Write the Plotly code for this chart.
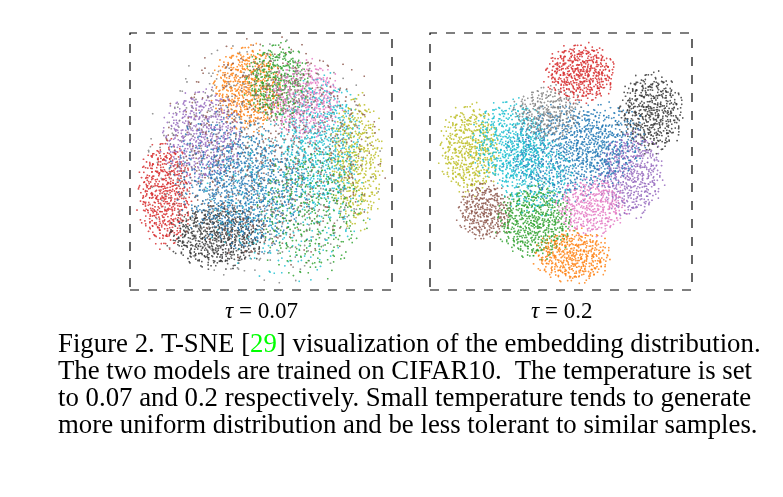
import numpy as np
import plotly.graph_objects as go

W, H = 783, 497
DX, DY = -8, -8  # page body margin offset

palette = {
    "blue": "#1f77b4", "orange": "#ff7f0e", "green": "#2ca02c", "red": "#d62728",
    "purple": "#9467bd", "brown": "#8c564b", "pink": "#e377c2", "black": "#333333",
    "olive": "#bcbd22", "cyan": "#17becf", "gray": "#7f7f7f",
}

# clusters: name, centre x, centre y, radius x, radius y, point count (panel units 0..1)
left_names = ["red", "black", "orange", "green", "purple", "cyan", "olive", "blue", "pink", "brown",
              "gray", "cyan", "blue", "green"]
left_cx = [0.12, 0.33, 0.45, 0.57, 0.27, 0.74, 0.88, 0.47, 0.67, 0.55, 0.50, 0.60, 0.35, 0.70]
left_cy = [0.37, 0.20, 0.80, 0.82, 0.60, 0.58, 0.50, 0.38, 0.75, 0.55, 0.50, 0.35, 0.45, 0.30]
left_rx = [0.10, 0.18, 0.13, 0.12, 0.15, 0.15, 0.10, 0.20, 0.14, 0.40, 0.42, 0.30, 0.20, 0.20]
left_ry = [0.20, 0.12, 0.16, 0.15, 0.18, 0.25, 0.25, 0.22, 0.15, 0.42, 0.44, 0.30, 0.25, 0.25]
left_n = [550, 650, 550, 450, 550, 650, 450, 650, 450, 650, 650, 350, 350, 350]

right_names = ["red", "black", "olive", "brown", "green", "orange", "blue", "purple", "cyan", "pink",
               "gray", "blue", "cyan"]
right_cx = [0.58, 0.86, 0.14, 0.20, 0.40, 0.55, 0.52, 0.78, 0.30, 0.62, 0.45, 0.68, 0.40]
right_cy = [0.86, 0.70, 0.55, 0.30, 0.26, 0.12, 0.54, 0.45, 0.58, 0.32, 0.70, 0.58, 0.45]
right_rx = [0.13, 0.12, 0.11, 0.10, 0.14, 0.14, 0.22, 0.12, 0.14, 0.13, 0.13, 0.15, 0.15]
right_ry = [0.11, 0.15, 0.17, 0.11, 0.14, 0.10, 0.18, 0.16, 0.16, 0.11, 0.10, 0.15, 0.15]
right_n = [500, 500, 500, 350, 600, 450, 800, 500, 500, 400, 300, 300, 300]


def halton(i, b):
    f, r = 1.0, 0.0
    while i > 0:
        f /= b
        r += f * (i % b)
        i //= b
    return r


def blob(cx, cy, rx, ry, n, offset):
    idx = np.arange(1, n + 1) + offset
    u = np.array([halton(i, 2) for i in idx])
    v = np.array([halton(i, 3) for i in idx])
    w = np.array([halton(i, 5) for i in idx])
    r = u ** 0.55 * (0.8 + 0.4 * w)
    a = 2 * np.pi * v
    return cx + rx * r * np.cos(a), cy + ry * r * np.sin(a)


fig = go.Figure()
panels = [
    (left_names, left_cx, left_cy, left_rx, left_ry, left_n, "x", "y"),
    (right_names, right_cx, right_cy, right_rx, right_ry, right_n, "x2", "y2"),
]
for names, cxs, cys, rxs, rys, ns, xa, ya in panels:
    for k, nm in enumerate(names):
        x, y = blob(cxs[k], cys[k], rxs[k], rys[k], ns[k], 37 * k + 11)
        fig.add_trace(go.Scattergl(x=x, y=y, mode="markers", xaxis=xa, yaxis=ya,
                                   marker=dict(size=2, color=palette[nm], opacity=0.8),
                                   showlegend=False, hoverinfo="skip"))

ax = dict(range=[-0.02, 1.02], visible=False, fixedrange=True)


def px(v):
    return (v + DX) / W


def py_(v):
    return 1 - (v + DY) / H


fig.update_layout(
    width=W, height=H, margin=dict(l=0, r=0, t=0, b=0),
    paper_bgcolor="white", plot_bgcolor="white",
    xaxis=dict(domain=[px(130), px(392)], **ax),
    yaxis=dict(domain=[py_(290), py_(33)], **ax),
    xaxis2=dict(domain=[px(430), px(692)], **ax),
    yaxis2=dict(domain=[py_(290), py_(33)], **ax),
    font=dict(family="Liberation Serif", color="black"),
)
for xr, yr in [("x domain", "y domain"), ("x2 domain", "y2 domain")]:
    fig.add_shape(type="rect", xref=xr, yref=yr, x0=0, x1=1, y0=0, y1=1,
                  line=dict(color="black", width=1.2, dash="dash"))

fig.add_annotation(x=px(261), y=py_(310), xref="paper", yref="paper", showarrow=False,
                   xanchor="center", yanchor="middle",
                   text="<i>τ</i> = 0.07", font=dict(size=23))
fig.add_annotation(x=px(561), y=py_(310), xref="paper", yref="paper", showarrow=False,
                   xanchor="center", yanchor="middle",
                   text="<i>τ</i> = 0.2", font=dict(size=23))

caption = [
    "Figure 2. T-SNE [<span style='color:#00ff00'>29</span>] visualization of the embedding distribution.",
    "The two models are trained on CIFAR10.  The temperature is set",
    "to 0.07 and 0.2 respectively. Small temperature tends to generate",
    "more uniform distribution and be less tolerant to similar samples.",
]
for i, line in enumerate(caption):
    fig.add_annotation(x=px(56), y=py_(343 + 27 * i), xref="paper", yref="paper",
                       xanchor="left", yanchor="middle", showarrow=False, text=line,
                       font=dict(size=26.8))

fig.write_html("out.html")
